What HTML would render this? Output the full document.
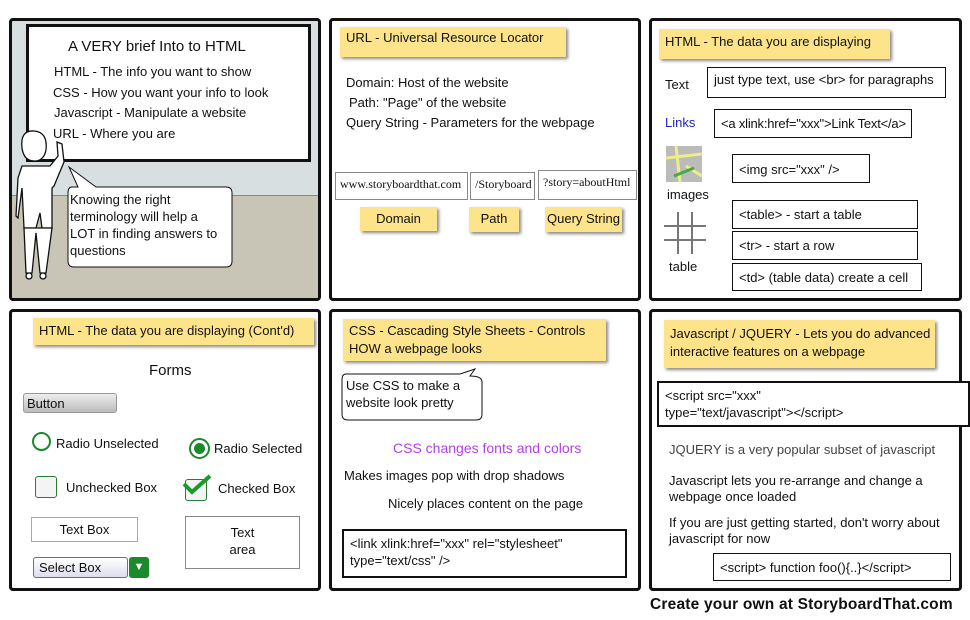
<!DOCTYPE html>
<html><head><meta charset="utf-8"><style>
body{margin:0;width:970px;height:620px;background:#fff;position:relative;font-family:"Liberation Sans",sans-serif;font-size:13px;color:#111;overflow:hidden}
.p{position:absolute;border:3px solid #111;border-radius:4px;box-sizing:border-box;background:#fff;overflow:hidden}
.a{position:absolute;white-space:nowrap}
.n{position:absolute;background:#fde38a;box-shadow:2px 2px 3px #888;padding:3px 6px;box-sizing:border-box;font-size:13px}
.b{position:absolute;border:1.5px solid #111;background:#fff;box-sizing:border-box;padding:4px 6px;white-space:nowrap}
.s{position:absolute;border:1px solid #888;background:#fff;box-sizing:border-box;font-family:"Liberation Serif",serif;font-size:12px;padding:4px}
.y{position:absolute;background:#fde38a;box-shadow:2px 2px 3px #888;text-align:center;line-height:24px}
</style></head><body>

<!-- Panel 1 -->
<div class="p" style="left:9px;top:18px;width:312px;height:283px;background:#d8dfe0">
 <div style="position:absolute;left:0;top:174px;width:100%;height:110px;background:#c8c4b6;border-top:1px solid #888"></div>
 <div style="position:absolute;left:14px;top:3px;width:285px;height:138px;background:#fff;border:3px solid #111;box-sizing:border-box"></div>
</div>
<div class="a" style="left:68px;top:38px;font-size:15px">A VERY brief Into to HTML</div>
<div class="a" style="left:54px;top:64px">HTML - The info you want to show</div>
<div class="a" style="left:53px;top:85px">CSS - How you want your info to look</div>
<div class="a" style="left:54px;top:105px">Javascript - Manipulate a website</div>
<div class="a" style="left:53px;top:126px">URL - Where you are</div>
<svg style="position:absolute;left:14px;top:128px" width="60" height="160">
 <g fill="#fff" stroke="#111" stroke-width="1.3">
 <path d="M8 20 Q6 2 20 3 Q34 4 32 22 Q30 32 22 33 Q10 34 8 20Z"/>
 <path d="M8 38 L36 38 L44 28 L43 14 L48 16 L50 34 L40 58 L38 60 L38 100 L28 100 L26 85 L22 100 L10 100 L8 60 L4 90 L2 88 L4 50Z"/>
 <path d="M10 100 L12 145 L18 145 L22 105 L26 145 L32 145 L38 100Z"/>
 <circle cx="15" cy="148" r="3"/><circle cx="29" cy="148" r="3"/>
 </g></svg>
<svg style="position:absolute;left:66px;top:165px" width="170" height="105">
 <path d="M6 22 L12 22 L3 2 L30 22 L160 22 Q166 22 166 28 L166 96 Q166 102 160 102 L8 102 Q2 102 2 96 L2 28 Q2 22 6 22Z" fill="#fff" stroke="#111" stroke-width="1"/></svg>
<div class="a" style="left:70px;top:191px;line-height:17px;white-space:normal;width:150px">Knowing the right terminology will help a LOT in finding answers to questions</div>

<!-- Panel 2 -->
<div class="p" style="left:329px;top:18px;width:312px;height:283px"></div>
<div class="n" style="left:340px;top:27px;width:226px;height:30px">URL - Universal Resource Locator</div>
<div class="a" style="left:346px;top:75px">Domain: Host of the website</div>
<div class="a" style="left:349px;top:95px">Path: "Page" of the website</div>
<div class="a" style="left:346px;top:115px">Query String - Parameters for the webpage</div>
<div class="s" style="left:335px;top:172px;width:133px;height:28px">www.storyboardthat.com</div>
<div class="s" style="left:470px;top:172px;width:65px;height:28px">/Storyboard</div>
<div class="s" style="left:538px;top:170px;width:99px;height:30px">?story=aboutHtml</div>
<div class="y" style="left:360px;top:207px;width:77px;height:24px">Domain</div>
<div class="y" style="left:469px;top:207px;width:50px;height:25px">Path</div>
<div class="y" style="left:545px;top:207px;width:77px;height:25px">Query String</div>

<!-- Panel 3 -->
<div class="p" style="left:649px;top:18px;width:313px;height:283px"></div>
<div class="n" style="left:659px;top:29px;width:231px;height:30px;padding-top:5px">HTML - The data you are displaying</div>
<div class="a" style="left:665px;top:77px">Text</div>
<div class="b" style="left:707px;top:67px;width:239px;height:31px">just type text, use &lt;br&gt; for paragraphs</div>
<div class="a" style="left:665px;top:115px;color:#22c">Links</div>
<div class="b" style="left:714px;top:109px;width:198px;height:29px;padding:6px 6px;letter-spacing:-0.2px">&lt;a xlink:href="xxx"&gt;Link Text&lt;/a&gt;</div>
<svg style="position:absolute;left:666px;top:146px" width="36" height="36"><rect width="36" height="36" fill="#bbb"/><path d="M0 12 L36 8 M10 0 L14 36 M20 20 L36 30" stroke="#ee8" stroke-width="3"/><path d="M8 30 L28 22" stroke="#4a4" stroke-width="3"/></svg>
<div class="a" style="left:667px;top:187px">images</div>
<div class="b" style="left:732px;top:154px;width:138px;height:29px;padding-top:7px">&lt;img src="xxx" /&gt;</div>
<svg style="position:absolute;left:664px;top:212px" width="42" height="42" stroke="#777" stroke-width="2"><path d="M14 0V42M28 0V42M0 14H42M0 28H42"/></svg>
<div class="a" style="left:669px;top:259px">table</div>
<div class="b" style="left:732px;top:200px;width:186px;height:29px;padding-top:6px">&lt;table&gt; - start a table</div>
<div class="b" style="left:732px;top:231px;width:186px;height:29px;padding-top:6px">&lt;tr&gt; - start a row</div>
<div class="b" style="left:732px;top:263px;width:190px;height:28px;padding-top:6px">&lt;td&gt; (table data) create a cell</div>

<!-- Panel 4 -->
<div class="p" style="left:9px;top:309px;width:312px;height:282px"></div>
<div class="n" style="left:33px;top:318px;width:281px;height:27px;padding-top:5px">HTML - The data you are displaying (Cont'd)</div>
<div class="a" style="left:149px;top:362px;font-size:15px">Forms</div>
<div class="a" style="left:23px;top:393px;width:94px;height:20px;border-radius:3px;border:1px solid #999;background:linear-gradient(#eee,#bbb);line-height:20px;padding-left:3px;box-sizing:border-box">Button</div>
<div class="a" style="left:32px;top:432px;width:19px;height:19px;border:2px solid #1a8a2a;border-radius:50%;box-sizing:border-box;background:#fff"></div>
<div class="a" style="left:56px;top:436px">Radio Unselected</div>
<div class="a" style="left:189px;top:438px;width:21px;height:21px;border:2px solid #1a8a2a;border-radius:50%;box-sizing:border-box;background:#fff"><div style="margin:3px;width:11px;height:11px;border-radius:50%;background:#1a8a2a"></div></div>
<div class="a" style="left:214px;top:441px">Radio Selected</div>
<div class="a" style="left:35px;top:476px;width:20px;height:20px;border:1px solid #2a7a3a;border-radius:3px;background:#f4f4f4"></div>
<div class="a" style="left:66px;top:480px">Unchecked Box</div>
<div class="a" style="left:185px;top:479px;width:20px;height:20px;border:1px solid #2a7a3a;border-radius:3px;background:#f4f4f4"></div>
<svg style="position:absolute;left:182px;top:474px" width="30" height="22"><path d="M2 10 L10 18 L28 2" fill="none" stroke="#1a9a2a" stroke-width="4"/></svg>
<div class="a" style="left:218px;top:481px">Checked Box</div>
<div class="a" style="left:31px;top:517px;width:105px;height:23px;border:1px solid #aaa;text-align:center;line-height:23px">Text Box</div>
<div class="a" style="left:185px;top:516px;width:115px;height:53px;border:1px solid #888;text-align:center;padding-top:7px;box-sizing:border-box;line-height:17px">Text<br>area</div>
<div class="a" style="left:33px;top:557px;width:95px;height:21px;border:1px solid #4a8a4a;border-radius:3px;background:linear-gradient(#fff,#dde);line-height:19px;padding-left:5px;box-sizing:border-box">Select Box</div>
<div class="a" style="left:129px;top:557px;width:20px;height:21px;background:#1a8a2a;border-radius:3px;color:#fff;text-align:center;line-height:21px;font-size:11px">▼</div>

<!-- Panel 5 -->
<div class="p" style="left:329px;top:309px;width:312px;height:282px"></div>
<div class="n" style="left:343px;top:319px;width:263px;height:42px;line-height:18px">CSS - Cascading Style Sheets - Controls HOW a webpage looks</div>
<svg style="position:absolute;left:340px;top:368px" width="145" height="55"><path d="M6 6 L120 6 L135 1 L130 8 Q142 8 142 14 L142 46 Q142 52 136 52 L8 52 Q2 52 2 46 L2 12 Q2 6 6 6Z" fill="#fff" stroke="#111"/></svg>
<div class="a" style="left:346px;top:377px;line-height:17px">Use CSS to make a<br>website look pretty</div>
<div class="a" style="left:393px;top:440px;color:#b43ee8;font-size:14px">CSS changes fonts and colors</div>
<div class="a" style="left:344px;top:468px">Makes images pop with drop shadows</div>
<div class="a" style="left:388px;top:496px">Nicely places content on the page</div>
<div class="b" style="left:342px;top:529px;width:285px;height:49px;line-height:17px;border-width:2px">&lt;link xlink:href="xxx" rel="stylesheet"<br>type="text/css" /&gt;</div>

<!-- Panel 6 -->
<div class="p" style="left:649px;top:309px;width:313px;height:282px"></div>
<div class="n" style="left:664px;top:320px;width:271px;height:48px;line-height:18px;padding-top:5px;white-space:nowrap;overflow:hidden">Javascript / JQUERY - Lets you do advanced<br>interactive features on a webpage</div>
<div class="b" style="left:657px;top:381px;width:313px;height:46px;line-height:17px;border-width:2px">&lt;script src="xxx"<br>type="text/javascript"&gt;&lt;/script&gt;</div>
<div class="a" style="left:669px;top:442px;color:#444">JQUERY is a very popular subset of javascript</div>
<div class="a" style="left:669px;top:473px;line-height:16px">Javascript lets you re-arrange and change a<br>webpage once loaded</div>
<div class="a" style="left:669px;top:515px;line-height:16px">If you are just getting started, don't worry about<br>javascript for now</div>
<div class="b" style="left:713px;top:553px;width:238px;height:28px;padding-top:6px">&lt;script&gt; function foo(){..}&lt;/script&gt;</div>

<div class="a" style="left:650px;top:596px;font-weight:bold;font-size:15.5px;letter-spacing:0.2px">Create your own at StoryboardThat.com</div>
</body></html>
